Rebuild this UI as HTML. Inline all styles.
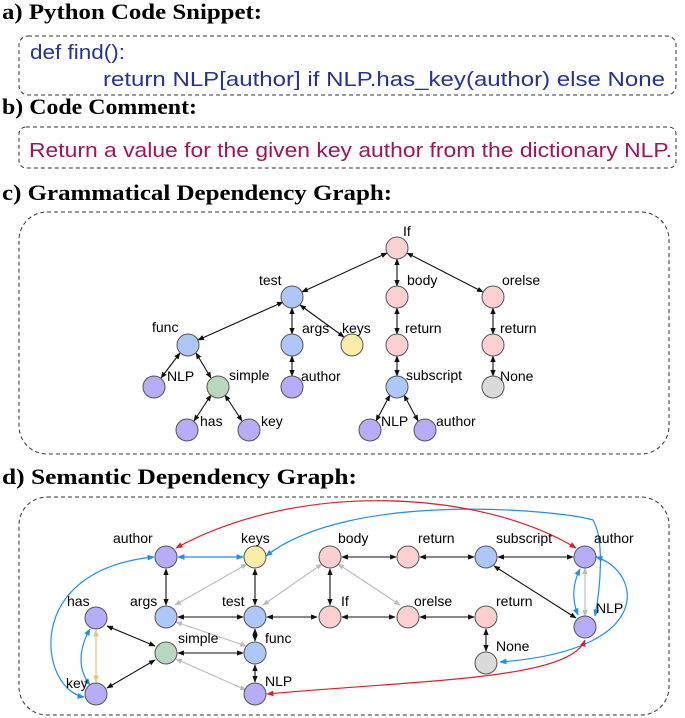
<!DOCTYPE html>
<html><head><meta charset="utf-8"><style>
body{margin:0;background:#fff;}
svg{display:block;}
.t{font-family:"Liberation Serif",serif;font-weight:bold;font-size:22px;fill:#000;}
.l{font-family:"Liberation Sans",sans-serif;font-size:14px;fill:#000;}
</style></head><body>
<svg width="685" height="718" viewBox="0 0 685 718" xmlns="http://www.w3.org/2000/svg">
<defs>
<marker id="ak" viewBox="0 0 10 10" refX="9" refY="5" markerWidth="6" markerHeight="6" orient="auto-start-reverse"><path d="M0,1 L10,5 L0,9 z" fill="#111"/></marker>
<marker id="ag" viewBox="0 0 10 10" refX="9" refY="5" markerWidth="6" markerHeight="6" orient="auto-start-reverse"><path d="M0,1 L10,5 L0,9 z" fill="#bbb"/></marker>
<marker id="ab" viewBox="0 0 10 10" refX="9" refY="5" markerWidth="6" markerHeight="6" orient="auto-start-reverse"><path d="M0,1 L10,5 L0,9 z" fill="#1e8ff0"/></marker>
<marker id="ar" viewBox="0 0 10 10" refX="9" refY="5" markerWidth="6" markerHeight="6" orient="auto-start-reverse"><path d="M0,1 L10,5 L0,9 z" fill="#e0202a"/></marker>
<marker id="ao" viewBox="0 0 10 10" refX="9" refY="5" markerWidth="6" markerHeight="6" orient="auto-start-reverse"><path d="M0,1 L10,5 L0,9 z" fill="#f0c080"/></marker>
</defs>

<text class="t" x="2" y="19" textLength="260" lengthAdjust="spacingAndGlyphs">a) Python Code Snippet:</text>
<rect x="19" y="36" width="657" height="59" rx="9" fill="none" stroke="#333" stroke-dasharray="4,3"/>
<text x="30" y="59" font-family="Liberation Sans,sans-serif" font-size="20" fill="#25329a" textLength="95" lengthAdjust="spacingAndGlyphs">def find():</text>
<text x="103" y="86" font-family="Liberation Sans,sans-serif" font-size="20" fill="#25329a" textLength="562" lengthAdjust="spacingAndGlyphs">return NLP[author] if NLP.has_key(author) else None</text>

<text class="t" x="2" y="114" textLength="195" lengthAdjust="spacingAndGlyphs">b) Code Comment:</text>
<rect x="19" y="127" width="657" height="41" rx="7" fill="none" stroke="#333" stroke-dasharray="4,3"/>
<text x="29" y="157" font-family="Liberation Sans,sans-serif" font-size="20" fill="#a3135c" textLength="643" lengthAdjust="spacingAndGlyphs">Return a value for the given key author from the dictionary NLP.</text>

<text class="t" x="2" y="200" textLength="390" lengthAdjust="spacingAndGlyphs">c) Grammatical Dependency Graph:</text>
<rect x="19" y="212" width="650" height="242" rx="28" fill="none" stroke="#333" stroke-dasharray="4,3"/>

<g stroke="#111" stroke-width="1.1" marker-start="url(#ak)" marker-end="url(#ak)">
<line x1="387" y1="253" x2="302" y2="292"/>
<line x1="397" y1="259" x2="397" y2="286"/>
<line x1="407" y1="253" x2="483" y2="292"/>
<line x1="283" y1="302" x2="198" y2="340"/>
<line x1="292" y1="308" x2="292" y2="334"/>
<line x1="300" y1="305" x2="344" y2="337"/>
<line x1="397" y1="308" x2="397" y2="334"/>
<line x1="493" y1="308" x2="493" y2="334"/>
<line x1="180" y1="353" x2="161" y2="378"/>
<line x1="196" y1="353" x2="211" y2="378"/>
<line x1="292" y1="356" x2="292" y2="376"/>
<line x1="397" y1="356" x2="397" y2="376"/>
<line x1="493" y1="356" x2="493" y2="376"/>
<line x1="211" y1="395" x2="194" y2="421"/>
<line x1="225" y1="395" x2="242" y2="421"/>
<line x1="390" y1="395" x2="376" y2="421"/>
<line x1="404" y1="395" x2="418" y2="421"/>
</g>
<g stroke="#555" stroke-width="1">
<circle cx="397" cy="248" r="11" fill="#fcd0cf"/>
<circle cx="292" cy="297" r="11" fill="#adc8f8"/>
<circle cx="397" cy="297" r="11" fill="#fcd0cf"/>
<circle cx="493" cy="297" r="11" fill="#fcd0cf"/>
<circle cx="188" cy="345" r="11" fill="#adc8f8"/>
<circle cx="292" cy="345" r="11" fill="#adc8f8"/>
<circle cx="352" cy="345" r="11" fill="#fbeda8"/>
<circle cx="397" cy="345" r="11" fill="#fcd0cf"/>
<circle cx="493" cy="345" r="11" fill="#fcd0cf"/>
<circle cx="154" cy="387" r="11" fill="#b7acf8"/>
<circle cx="218" cy="387" r="11" fill="#b7d8bc"/>
<circle cx="292" cy="387" r="11" fill="#b7acf8"/>
<circle cx="397" cy="387" r="11" fill="#adc8f8"/>
<circle cx="493" cy="387" r="11" fill="#dadada"/>
<circle cx="187" cy="430" r="11" fill="#b7acf8"/>
<circle cx="249" cy="430" r="11" fill="#b7acf8"/>
<circle cx="370" cy="430" r="11" fill="#b7acf8"/>
<circle cx="425" cy="430" r="11" fill="#b7acf8"/>
</g>
<g class="l">
<text x="403" y="236">If</text>
<text x="259" y="285">test</text>
<text x="407" y="285">body</text>
<text x="502" y="285">orelse</text>
<text x="152" y="332">func</text>
<text x="302" y="333">args</text>
<text x="342" y="333">keys</text>
<text x="405" y="333">return</text>
<text x="500" y="333">return</text>
<text x="167" y="381">NLP</text>
<text x="229" y="380">simple</text>
<text x="301" y="381">author</text>
<text x="406" y="380">subscript</text>
<text x="500" y="381">None</text>
<text x="200" y="426">has</text>
<text x="261" y="426">key</text>
<text x="381" y="426">NLP</text>
<text x="436" y="426">author</text>
</g>

<text class="t" x="2" y="484" textLength="355" lengthAdjust="spacingAndGlyphs">d) Semantic Dependency Graph:</text>
<rect x="19" y="497" width="650" height="218" rx="28" fill="none" stroke="#333" stroke-dasharray="4,3"/>

<g stroke="#bbb" stroke-width="1.1" marker-start="url(#ag)" marker-end="url(#ag)" fill="none">
<line x1="247" y1="564" x2="175" y2="605"/>
<line x1="322" y1="564" x2="263" y2="605"/>
<line x1="338" y1="564" x2="400" y2="605"/>
<line x1="176" y1="622" x2="246" y2="646"/>
<line x1="176" y1="659" x2="246" y2="690"/>
<line x1="585" y1="568" x2="585" y2="616"/>
</g>
<g stroke="#111" stroke-width="1.1" marker-start="url(#ak)" marker-end="url(#ak)">
<line x1="166" y1="569" x2="166" y2="605"/>
<line x1="255" y1="569" x2="255" y2="605"/>
<line x1="178" y1="617" x2="243" y2="617"/>
<line x1="267" y1="617" x2="317" y2="617"/>
<line x1="342" y1="617" x2="395" y2="617"/>
<line x1="420" y1="617" x2="474" y2="617"/>
<line x1="330" y1="569" x2="330" y2="605"/>
<line x1="342" y1="557" x2="396" y2="557"/>
<line x1="420" y1="557" x2="474" y2="557"/>
<line x1="498" y1="557" x2="573" y2="557"/>
<line x1="494" y1="566" x2="576" y2="618"/>
<line x1="255" y1="629" x2="255" y2="641"/>
<line x1="178" y1="653" x2="243" y2="653"/>
<line x1="255" y1="665" x2="255" y2="682"/>
<line x1="107" y1="626" x2="155" y2="646"/>
<line x1="107" y1="688" x2="155" y2="660"/>
<line x1="486" y1="629" x2="486" y2="651"/>
</g>
<line x1="96" y1="630" x2="96" y2="682" stroke="#f0c080" stroke-width="1.2" marker-start="url(#ao)" marker-end="url(#ao)"/>
<g stroke="#1e8ff0" stroke-width="1.2" fill="none" marker-start="url(#ab)" marker-end="url(#ab)">
<line x1="178" y1="557" x2="243" y2="557"/>
<path d="M154 557 C 20 570, 40 690, 84 697"/>
<path d="M90 629 C 78 650, 78 670, 90 685"/>
<path d="M266 556 C 350 490, 560 510, 593 520 C 605 540, 600 590, 595 616"/>
<path d="M580 569 C 572 585, 572 600, 578 615"/>
<path d="M596 557 C 640 570, 660 650, 500 662"/>
</g>
<g stroke="#e0202a" stroke-width="1.2" fill="none" marker-start="url(#ar)" marker-end="url(#ar)">
<path d="M176 548 C 300 480, 480 490, 576 548"/>
<path d="M267 694 C 420 680, 570 680, 585 640"/>
</g>

<g stroke="#555" stroke-width="1">
<circle cx="166" cy="557" r="11" fill="#b7acf8"/>
<circle cx="255" cy="557" r="11" fill="#fbeda8"/>
<circle cx="330" cy="557" r="11" fill="#fcd0cf"/>
<circle cx="408" cy="557" r="11" fill="#fcd0cf"/>
<circle cx="486" cy="557" r="11" fill="#adc8f8"/>
<circle cx="585" cy="557" r="11" fill="#b7acf8"/>
<circle cx="96" cy="618" r="11" fill="#b7acf8"/>
<circle cx="166" cy="617" r="11" fill="#adc8f8"/>
<circle cx="255" cy="617" r="11" fill="#adc8f8"/>
<circle cx="330" cy="617" r="11" fill="#fcd0cf"/>
<circle cx="408" cy="617" r="11" fill="#fcd0cf"/>
<circle cx="486" cy="617" r="11" fill="#fcd0cf"/>
<circle cx="585" cy="627" r="11" fill="#b7acf8"/>
<circle cx="166" cy="653" r="11" fill="#b7d8bc"/>
<circle cx="255" cy="653" r="11" fill="#adc8f8"/>
<circle cx="486" cy="663" r="11" fill="#dadada"/>
<circle cx="96" cy="694" r="11" fill="#b7acf8"/>
<circle cx="255" cy="694" r="11" fill="#b7acf8"/>
</g>
<g class="l">
<text x="113" y="543">author</text>
<text x="241" y="543">keys</text>
<text x="338" y="543">body</text>
<text x="418" y="543">return</text>
<text x="496" y="543">subscript</text>
<text x="594" y="543">author</text>
<text x="67" y="606">has</text>
<text x="130" y="606">args</text>
<text x="222" y="606">test</text>
<text x="341" y="606">If</text>
<text x="414" y="606">orelse</text>
<text x="496" y="606">return</text>
<text x="596" y="613">NLP</text>
<text x="178" y="643">simple</text>
<text x="265" y="643">func</text>
<text x="496" y="651">None</text>
<text x="66" y="688">key</text>
<text x="265" y="686">NLP</text>
</g>
</svg>
</body></html>
